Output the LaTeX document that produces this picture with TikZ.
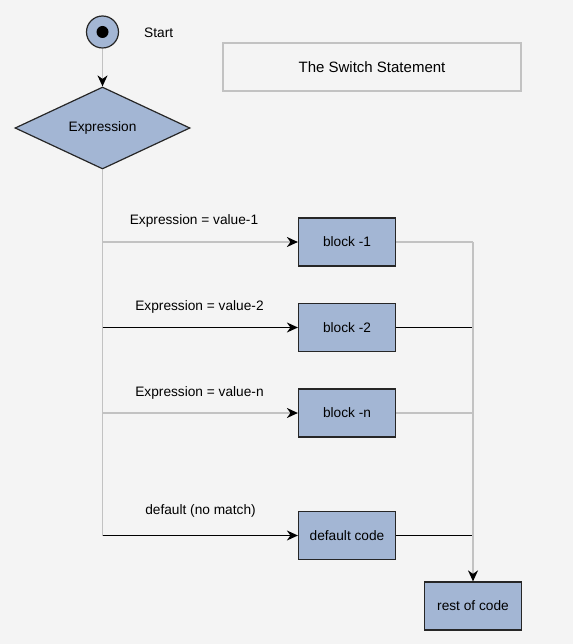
\documentclass[tikz,border=0pt]{standalone}
\usepackage{fontspec}
\setmainfont{Liberation Sans}
\usetikzlibrary{shapes.geometric,arrows.meta}

\definecolor{boxfill}{HTML}{A3B6D4}
\definecolor{wiregray}{HTML}{C2C2C2}
\definecolor{paper}{HTML}{F4F4F4}

\tikzset{
  txt/.style={font=\fontsize{13.7}{16}\selectfont, inner sep=0pt},
  blockbox/.style={txt, draw=black!85, line width=1.2pt, fill=boxfill,
    minimum width=97pt, minimum height=48pt},
  decision/.style={txt, diamond, draw=black!85, line width=1.2pt, fill=boxfill,
    minimum width=175pt, minimum height=82pt, aspect=2.1},
  wire/.style={line width=1.5pt, wiregray},
  blackwire/.style={line width=1.4pt, black},
  tip/.style={-{Stealth[length=11pt,width=10pt,inset=3.5pt,black]}}
}

\begin{document}
\begin{tikzpicture}[x=1pt,y=-1pt]
  \fill[paper] (0,0) rectangle (573,644);

  % start and decision
  \node[circle, draw=black!85, line width=1.2pt, fill=boxfill, minimum size=32pt] (start) at (102.5,32) {};
  \node[circle, fill=black, minimum size=12pt, inner sep=0pt] (dot) at (start) {};
  \node[txt, anchor=west] (startlbl) at (144,33) {Start};
  \node[decision] (expr) at (102.5,128) {Expression};
  \draw[wire, tip] (start) -- (expr.north);

  % title
  \node[draw=wiregray, line width=1.3pt, minimum width=298pt, minimum height=48pt,
    font=\fontsize{15}{18}\selectfont] (title) at (372,67) {The Switch Statement};

  % the cases
  \node[blockbox] (blockone) at (347,242) {block -1};
  \node[blockbox] (blocktwo) at (347,327.5) {block -2};
  \node[blockbox] (blockn) at (347,413) {block -n};
  \node[blockbox] (deflt) at (347,535.5) {default code};
  \node[blockbox] (rest) at (473,606) {rest of code};

  \node[txt] (caseone) at (194,221) {Expression = value-1};
  \node[txt] (casetwo) at (199.5,307) {Expression = value-2};
  \node[txt] (casen) at (199.5,393) {Expression = value-n};
  \node[txt] (casedef) at (200.5,511) {default (no match)};

  % left trunk and branches
  \draw[wire] (expr.south) -- (expr.south |- deflt.west);
  \draw[wire, tip] (expr.south |- blockone.west) -- (blockone.west);
  \draw[blackwire, tip] (expr.south |- blocktwo.west) -- (blocktwo.west);
  \draw[wire, tip] (expr.south |- blockn.west) -- (blockn.west);
  \draw[blackwire, tip] (expr.south |- deflt.west) -- (deflt.west);

  % right side back to the rest of the code
  \draw[wire] (blockone.east) -- (rest.north |- blockone.east);
  \draw[blackwire] (blocktwo.east) -- (rest.north |- blocktwo.east);
  \draw[wire] (blockn.east) -- (rest.north |- blockn.east);
  \draw[blackwire] (deflt.east) -- (rest.north |- deflt.east);
  \draw[wire, tip] (rest.north |- blockone.east) -- (rest.north);
\end{tikzpicture}
\end{document}
